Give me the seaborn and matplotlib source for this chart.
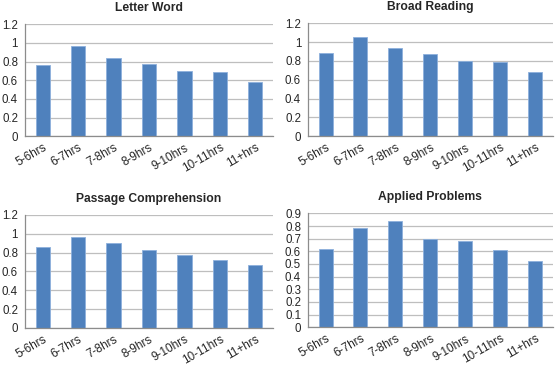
import matplotlib
matplotlib.use("Agg")
import matplotlib.pyplot as plt
from matplotlib.ticker import FuncFormatter, FixedLocator
import seaborn as sns

# Data
hours = ['5-6hrs', '6-7hrs', '7-8hrs', '8-9hrs', '9-10hrs', '10-11hrs', '11+hrs']
letter_word = [0.76, 0.97, 0.84, 0.77, 0.70, 0.69, 0.58]
broad_reading = [0.88, 1.05, 0.94, 0.87, 0.80, 0.79, 0.68]
passage_comp = [0.86, 0.97, 0.90, 0.83, 0.77, 0.72, 0.67]
applied_problems = [0.62, 0.785, 0.84, 0.70, 0.685, 0.61, 0.52]

titles = ['Letter Word', 'Broad Reading', 'Passage Comprehension', 'Applied Problems']
series = [letter_word, broad_reading, passage_comp, applied_problems]
ymax = [1.2, 1.2, 1.2, 0.9]
ystep = [0.2, 0.2, 0.2, 0.1]

sns.set_style("white")
plt.rcParams['font.family'] = ['Liberation Sans', 'DejaVu Sans']

fig = plt.figure(figsize=(5.55, 3.68), dpi=100)

# axes boxes in figure fractions (left, bottom, width, height)
boxes = [
    (0.045, 0.630, 0.447, 0.304),
    (0.555, 0.630, 0.441, 0.307),
    (0.045, 0.109, 0.447, 0.307),
    (0.555, 0.111, 0.441, 0.309),
]

bar_color = '#4F81BD'
grid_color = '#BEBEBE'

for box, title, vals, top, step in zip(boxes, titles, series, ymax, ystep):
    ax = fig.add_axes(box)
    sns.barplot(x=hours, y=vals, ax=ax, color=bar_color, saturation=1,
                width=0.4, edgecolor='#8DB0DC', linewidth=0.6)
    ax.set_xlim(-0.5, len(hours) - 0.5)
    ax.set_ylim(0, top)
    n = int(round(top / step))
    ax.set_yticks([i * step for i in range(n + 1)])
    ax.yaxis.set_major_formatter(FuncFormatter(lambda v, p: '%g' % round(v, 2)))
    ax.grid(axis='y', color=grid_color, linewidth=0.9)
    ax.set_axisbelow(True)
    for s in ['top', 'right']:
        ax.spines[s].set_visible(False)
    for s in ['left', 'bottom']:
        ax.spines[s].set_color('#8C8C8C')
        ax.spines[s].set_linewidth(0.9)
    # Excel-style category boundary tick marks
    ax.xaxis.set_minor_locator(FixedLocator([i - 0.5 for i in range(len(hours) + 1)]))
    ax.tick_params(axis='x', which='major', length=0, pad=4, labelsize=8.5)
    ax.tick_params(axis='x', which='minor', length=4, color='#8C8C8C', width=0.9)
    ax.tick_params(axis='y', length=3, color='#8C8C8C', width=0.9, labelsize=8.3, pad=2)
    for lab in ax.get_xticklabels():
        lab.set_rotation(30)
        lab.set_ha('right')
        lab.set_rotation_mode('anchor')
    ax.set_xlabel('')
    ax.set_title(title, fontsize=8.7, fontweight='bold', pad=9.5)

fig.savefig('out.png', dpi=100)
